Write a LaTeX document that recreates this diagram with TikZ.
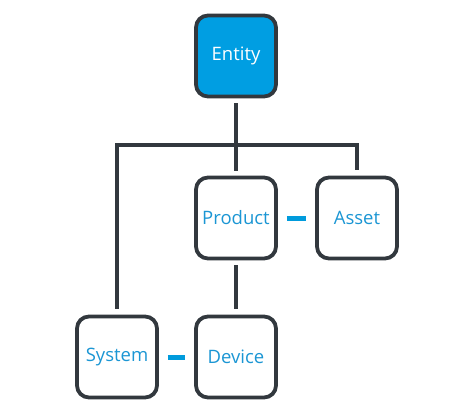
\documentclass[tikz,border=0pt]{standalone}
\usepackage{fontspec}
\setmainfont{Open Sans}

\begin{document}
\begin{tikzpicture}[x=1pt, y=-1pt,
    box/.style={draw=boxline, line width=3.8pt, rounded corners=12pt, fill=white, minimum width=80pt, minimum height=81pt, inner sep=0pt, text=txtblue, font=\fontsize{18.5}{22}\selectfont},
    tree/.style={draw=boxline, line width=3.8pt},
    link/.style={draw=linkblue, line width=5pt, shorten <=9pt, shorten >=9pt}]
        \definecolor{boxline}{RGB}{50,56,62}
        \definecolor{entblue}{RGB}{0,158,226}
        \definecolor{txtblue}{RGB}{27,150,212}
        \definecolor{linkblue}{RGB}{0,155,220}

        \useasboundingbox[fill=white] (0,0) rectangle (474,409);

        \node[box, fill=entblue, text=white] (entity) at (236,56) {Entity};
        \node[box] (product) at (236,218) {Product};
        \node[box] (asset) at (357,218) {Asset};
        \node[box] (system) at (117,357) {System};
        \node[box] (device) at (236,357) {Device};

        \coordinate (fork) at (236,145);

        \draw[tree, shorten <=5pt] (entity) -- (fork);
        \draw[tree, shorten <=6pt, shorten >=6pt] (system.north) |- (fork) -| (asset.north);
        \draw[tree, shorten >=5pt] (fork) -- (product.north);
        \draw[tree, shorten <=5pt, shorten >=6pt] (product) -- (device);

        \draw[link] (product) -- (asset);
        \draw[link] (system) -- (device);
    \end{tikzpicture}
\end{document}
